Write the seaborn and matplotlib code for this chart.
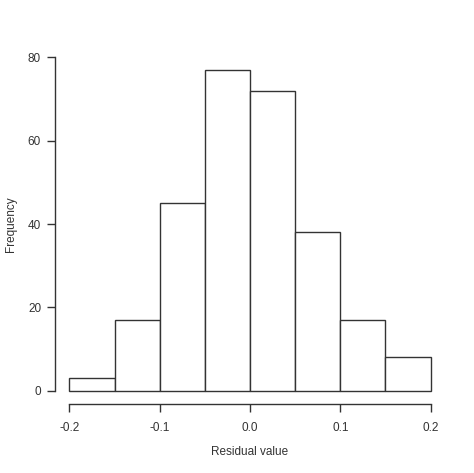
import matplotlib
matplotlib.use("Agg")
import matplotlib.pyplot as plt
import seaborn as sns
import numpy as np

bin_edges = [-0.2, -0.15, -0.1, -0.05, 0.0, 0.05, 0.1, 0.15, 0.2]
counts = [3, 17, 45, 77, 72, 38, 17, 8]
x_ticks = [-0.2, -0.1, 0.0, 0.1, 0.2]
x_ticklabels = ["-0.2", "-0.1", "0.0", "0.1", "0.2"]
y_ticks = [0, 20, 40, 60, 80]

centers = [(a + b) / 2 for a, b in zip(bin_edges[:-1], bin_edges[1:])]

sns.set_style("white")
plt.rcParams["font.family"] = ["Liberation Sans", "DejaVu Sans"]

W, H = 474, 473
fig = plt.figure(figsize=(W / 100, H / 100), dpi=100)
left, right, bottom, top = 55, 445, 404, 44
ax = fig.add_axes([left / W, (H - bottom) / H, (right - left) / W, (bottom - top) / H])

sns.histplot(x=centers, weights=counts, bins=bin_edges, ax=ax,
             color="white", edgecolor="#333333", linewidth=1.0, alpha=1.0)

ax.set_xlim(-0.216, 0.216)
ax.set_ylim(-3.2, 83.2)
for s in ["top", "right"]:
    ax.spines[s].set_visible(False)
ax.spines["left"].set_bounds(0, 80)
ax.spines["bottom"].set_bounds(-0.2, 0.2)
for s in ["left", "bottom"]:
    ax.spines[s].set_color("#333333")
    ax.spines[s].set_linewidth(1.0)

ax.set_xticks(x_ticks)
ax.set_xticklabels(x_ticklabels)
ax.set_yticks(y_ticks)
ax.tick_params(axis="both", direction="out", length=6, width=1.0, color="#333333",
               labelsize=8.5, labelcolor="#333333", left=True, bottom=True)
ax.tick_params(axis="x", pad=7)
ax.tick_params(axis="y", pad=4)

ax.set_xlabel("Residual value", fontsize=8.5, color="#333333")
ax.set_ylabel("Frequency", fontsize=8.5, color="#333333")
ax.xaxis.set_label_coords(0.5, -(452 - 404) / (bottom - top), transform=ax.transAxes)
ax.yaxis.set_label_coords(-(55 - 11) / (right - left), 0.5, transform=ax.transAxes)
ax.xaxis.label.set_va("center")
ax.yaxis.label.set_va("center")

fig.savefig("out.png", dpi=100, facecolor="white")
